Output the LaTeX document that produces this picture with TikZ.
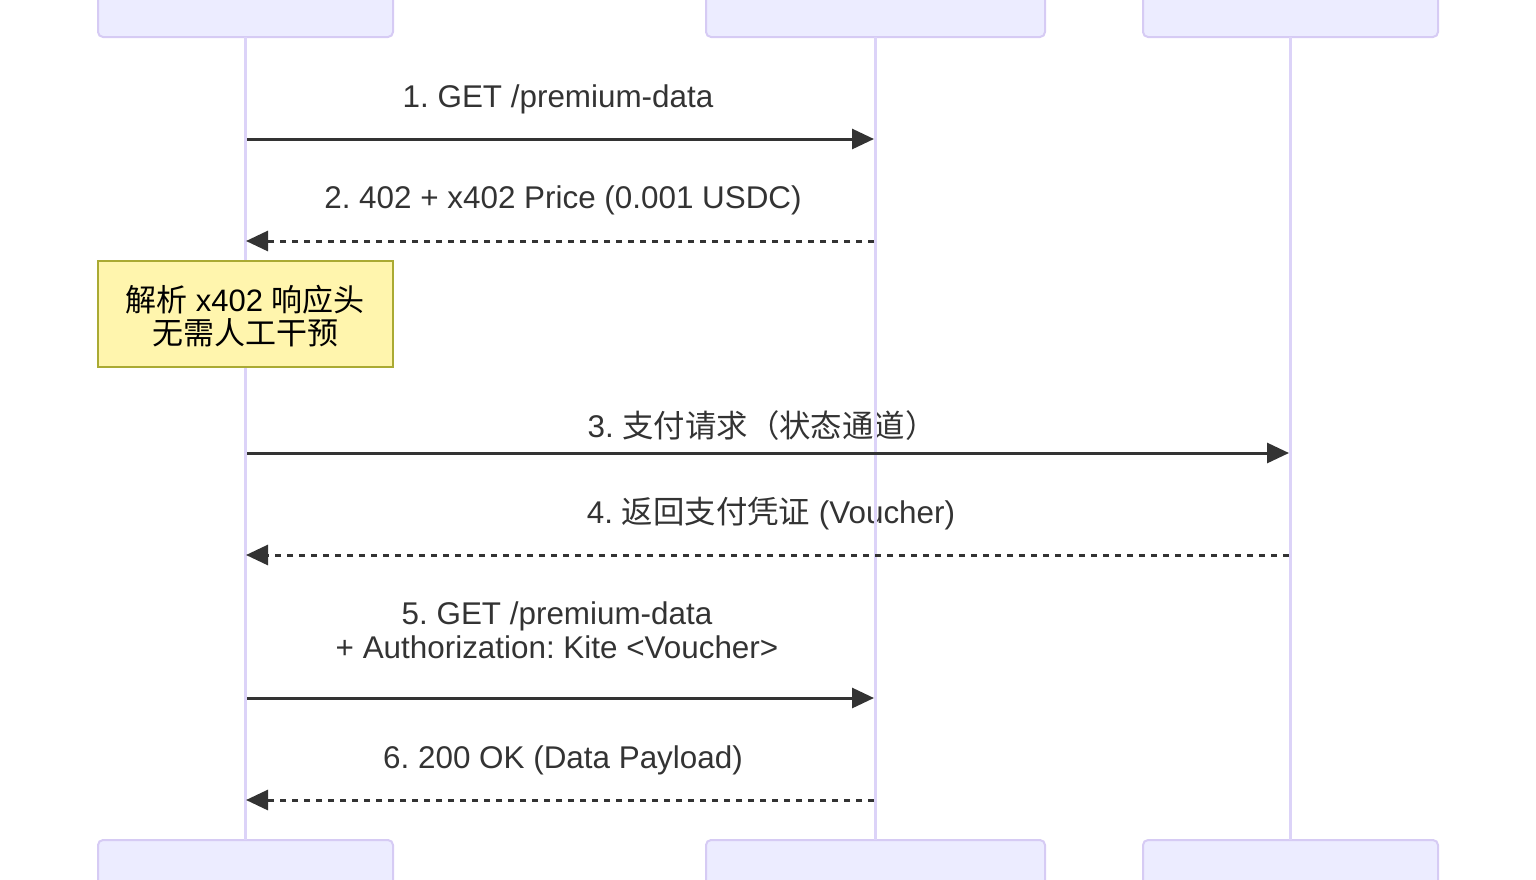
\documentclass[tikz,border=0pt]{standalone}
\usepackage{fontspec}
\setmainfont{Liberation Sans}
\newfontfamily\cjk{Noto Sans CJK SC}
\usetikzlibrary{arrows.meta}
\frenchspacing
\definecolor{actfill}{HTML}{ECECFF}
\definecolor{actdraw}{HTML}{D6CBF4}
\definecolor{lifecol}{HTML}{DCD3F8}
\definecolor{msgcol}{HTML}{333333}
\definecolor{notefill}{HTML}{FFF5AD}
\definecolor{notedraw}{HTML}{AAAA33}
\tikzset{
  actorbox/.style={draw=actdraw,fill=actfill,line width=2pt,rounded corners=5pt},
  lifeline/.style={draw=lifecol,line width=3pt},
  msgline/.style={draw=msgcol,line width=3pt,-{Triangle[length=22pt,width=20pt]}},
  reply/.style={msgline,dash pattern=on 6.5pt off 5.5pt},
  msglabel/.style={anchor=base,inner sep=0pt,text=msgcol,font=\fontsize{31.4}{37}\selectfont},
  notelabel/.style={anchor=base,inner sep=0pt,text=black,font=\fontsize{31}{37}\selectfont},
  notebox/.style={draw=notedraw,fill=notefill,line width=2pt},
}
\begin{document}
\begin{tikzpicture}[x=1pt,y=-1pt]
\useasboundingbox (0,0) rectangle (1536,879);
% actor boxes
\draw[actorbox] (98,-12) rectangle (393,37);
\draw[actorbox] (706,-12) rectangle (1045,37);
\draw[actorbox] (1143,-12) rectangle (1438,37);
\draw[actorbox] (98,840) rectangle (393,892);
\draw[actorbox] (706,840) rectangle (1045,892);
\draw[actorbox] (1143,840) rectangle (1438,892);
% labels
\node[msglabel] (t1) at (558,107) {1. GET /premium-data};
\node[msglabel] (t2) at (563,208) {2. 402 + x402 Price (0.001 USDC)};
\node[msglabel] (t3) at (762,437) {3. {\cjk 支付请求（状态通道）}};
\node[msglabel] (t4) at (771,523) {4. {\cjk 返回支付凭证} (Voucher)};
\node[msglabel] (t5a) at (557,624) {5. GET /premium-data};
\node[msglabel] (t5b) at (557,658) {+ Authorization: Kite <Voucher>};
\node[msglabel] (t6) at (563,768) {6. 200 OK (Data Payload)};
% lifelines
\coordinate (l1t) at (245,37); \coordinate (l1b) at (245,840);
\coordinate (l2t) at (875,37); \coordinate (l2b) at (875,840);
\coordinate (l3t) at (1290,37); \coordinate (l3b) at (1290,840);
\draw[lifeline] (l1t) -- (l1b);
\draw[lifeline] (l2t) -- (l2b);
\draw[lifeline] (l3t) -- (l3b);
% note
\draw[notebox] (98,261) rectangle (393,367);
\node[notelabel] (n1) at (245,311) {{\cjk 解析} x402 {\cjk 响应头}};
\node[notelabel] (n2) at (245,344) {\cjk 无需人工干预};
% message endpoints
\coordinate (a1s) at (247,139); \coordinate (a1e) at (874,139);
\coordinate (a2s) at (874,241); \coordinate (a2e) at (246,241);
\coordinate (a3s) at (247,453); \coordinate (a3e) at (1289,453);
\coordinate (a4s) at (1289,555); \coordinate (a4e) at (246,555);
\coordinate (a5s) at (247,698); \coordinate (a5e) at (874,698);
\coordinate (a6s) at (874,800); \coordinate (a6e) at (246,800);
\draw[msgline] (a1s) -- (a1e);
\draw[reply] (a2s) -- (a2e);
\draw[msgline] (a3s) -- (a3e);
\draw[reply] (a4s) -- (a4e);
\draw[msgline] (a5s) -- (a5e);
\draw[reply] (a6s) -- (a6e);
\end{tikzpicture}
\end{document}
